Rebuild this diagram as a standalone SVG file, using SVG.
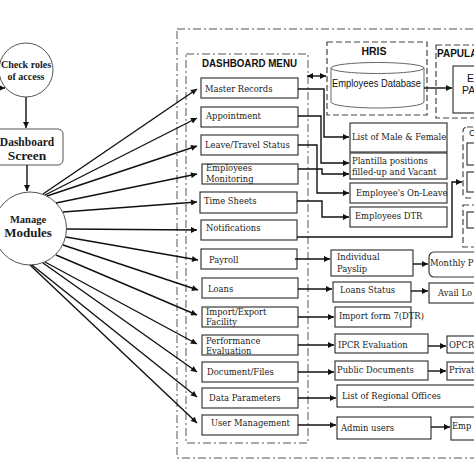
<svg xmlns="http://www.w3.org/2000/svg" width="474" height="474" viewBox="0 0 474 474">
<defs>
<style>
.box{fill:#fff;stroke:#3a3a3a;stroke-width:1.2}
.t{font-family:"DejaVu Serif",serif;font-size:8.4px;fill:#1a1a1a}
.b{font-family:"Liberation Serif",serif;font-weight:bold;fill:#1a1a1a;text-anchor:middle}
.s{font-family:"Liberation Sans",Arial,sans-serif;fill:#111}
.c{fill:none;stroke:#111;stroke-width:1.4;marker-end:url(#ah)}
.dd{fill:none;stroke:#555;stroke-width:1;stroke-dasharray:8 3 2 3}
.dsh{fill:none;stroke:#444;stroke-width:1.2;stroke-dasharray:6 3}
.circ{fill:#fff;stroke:#555;stroke-width:1}
</style>
<marker id="ah" viewBox="0 0 10 10" refX="10" refY="5" markerWidth="7" markerHeight="6" markerUnits="userSpaceOnUse" orient="auto-start-reverse">
<path d="M0,0 L10,5 L0,10 z" fill="#111"/>
</marker>
</defs>
<rect width="474" height="474" fill="#fff"/>

<g id="containers">
<rect class="dd" x="177" y="29" width="320" height="429"/>
<rect class="dd" x="186" y="54" width="122" height="389"/>
<text class="s" x="202" y="67" font-size="10.7" font-weight="bold" textLength="95" lengthAdjust="spacingAndGlyphs">DASHBOARD MENU</text>
</g>

<g id="check-roles">
<circle class="circ" cx="26" cy="70" r="27"/>
<text class="b" x="26" y="68" font-size="10">Check roles</text>
<text class="b" x="26" y="80" font-size="10">of access</text>
</g>
<g id="dashboard-screen">
<rect x="-6" y="129" width="69" height="36" rx="5" fill="#fff" stroke="#555" stroke-width="1"/>
<text class="b" x="27" y="146" font-size="11.5">Dashboard</text>
<text class="b" x="27" y="160" font-size="13.5">Screen</text>
</g>
<g id="manage-modules">
<circle class="circ" cx="30" cy="228.5" r="36.5"/>
<text class="b" x="28" y="223" font-size="10.5">Manage</text>
<text class="b" x="28" y="237" font-size="13">Modules</text>
</g>

<g id="menu">
<g id="m-master"><rect class="box" x="201" y="78" width="97" height="20"/><text class="t" x="205" y="91.5">Master Records</text></g>
<g id="m-appointment"><rect class="box" x="201" y="107" width="97" height="20"/><text class="t" x="206" y="118.5">Appointment</text></g>
<g id="m-leave"><rect class="box" x="201" y="135" width="97" height="20"/><text class="t" x="205" y="147.5">Leave/Travel Status</text></g>
<g id="m-monitoring"><rect class="box" x="202" y="164" width="96" height="20"/><text class="t" x="206" y="171">Employees</text><text class="t" x="206" y="182">Monitoring</text></g>
<g id="m-timesheets"><rect class="box" x="200" y="192" width="97" height="21"/><text class="t" x="204" y="204">Time Sheets</text></g>
<g id="m-notifications"><rect class="box" x="201" y="220" width="96" height="20"/><text class="t" x="206" y="231">Notifications</text></g>
<g id="m-payroll"><rect class="box" x="201" y="249" width="96" height="20"/><text class="t" x="209" y="263">Payroll</text></g>
<g id="m-loans"><rect class="box" x="202" y="278" width="96" height="20"/><text class="t" x="208" y="292">Loans</text></g>
<g id="m-import"><rect class="box" x="202" y="307" width="96" height="20"/><text class="t" x="206" y="315">Import/Export</text><text class="t" x="206" y="325">Facility</text></g>
<g id="m-performance"><rect class="box" x="202" y="335" width="96" height="20"/><text class="t" x="206" y="343.5">Performance</text><text class="t" x="206" y="354">Evaluation</text></g>
<g id="m-document"><rect class="box" x="202" y="362" width="96" height="20"/><text class="t" x="207" y="375">Document/Files</text></g>
<g id="m-data"><rect class="box" x="202" y="388" width="96" height="20"/><text class="t" x="209" y="401">Data Parameters</text></g>
<g id="m-user"><rect class="box" x="202" y="415" width="96" height="20"/><text class="t" x="211" y="426">User Management</text></g>
</g>

<g id="hris">
<rect class="dsh" x="327" y="42" width="100" height="73"/>
<text class="s" x="374" y="55" font-size="10.5" font-weight="bold" text-anchor="middle">HRIS</text>
<path d="M331,68 L331,102 A46.5,6 0 0 0 424,102 L424,68" fill="#fff" stroke="#666" stroke-width="1"/>
<ellipse cx="377.5" cy="68" rx="46.5" ry="5.5" fill="#fff" stroke="#666" stroke-width="1"/>
<text class="s" x="332" y="87" font-size="10.5" textLength="89" lengthAdjust="spacingAndGlyphs">Employees Database</text>
</g>

<g id="papula">
<rect class="dsh" x="436" y="45" width="60" height="73"/>
<text class="s" x="437" y="57" font-size="10" font-weight="bold">PAPULA</text>
<rect class="box" x="453" y="66" width="40" height="47"/>
<text class="s" x="467" y="82" font-size="10.5">E</text>
<text class="s" x="462" y="94" font-size="10.5">PA</text>
</g>

<g id="c-group">
<rect class="dsh" x="463" y="127" width="40" height="71" rx="4"/>
<text class="s" x="469" y="136" font-size="9">C</text>
<rect class="box" x="467" y="143" width="30" height="22"/>
<rect class="box" x="467" y="172" width="30" height="20"/>
<rect class="dsh" x="463" y="205" width="40" height="42"/>
<rect class="box" x="467" y="212" width="30" height="16"/>
</g>

<g id="n-male-female"><rect class="box" x="350" y="123" width="97" height="29"/><text class="t" x="352" y="140">List of Male &amp; Female</text></g>
<g id="n-plantilla"><rect class="box" x="350" y="153" width="97" height="26"/><text class="t" x="352" y="164">Plantilla positions</text><text class="t" x="352" y="175">filled-up and Vacant</text></g>
<g id="n-onleave"><rect class="box" x="350" y="183" width="97" height="20"/><text class="t" x="356" y="195.5">Employee's On-Leave</text></g>
<g id="n-dtr"><rect class="box" x="350" y="207" width="97" height="20"/><text class="t" x="355" y="219">Employees DTR</text></g>
<g id="n-payslip"><rect class="box" x="331" y="250" width="82" height="26"/><text class="t" x="337" y="260">Individual</text><text class="t" x="337" y="272">Payslip</text></g>
<g id="n-monthly"><rect class="box" x="429" y="252" width="60" height="25" rx="5"/><text class="t" x="430" y="266">Monthly P</text></g>
<g id="n-loanstatus"><rect class="box" x="333" y="282" width="78" height="20"/><text class="t" x="340" y="292.5">Loans Status</text></g>
<g id="n-avail"><rect class="box" x="429" y="283" width="60" height="20"/><text class="t" x="438" y="296">Avail Lo</text></g>
<g id="n-importform"><rect class="box" x="335" y="307" width="76" height="20"/><text class="t" x="339" y="319">Import form 7(DTR)</text></g>
<g id="n-ipcr"><rect class="box" x="335" y="334" width="93" height="19"/><text class="t" x="338" y="348">IPCR Evaluation</text></g>
<g id="n-opcr"><rect class="box" x="447" y="336" width="40" height="17"/><text class="t" x="449" y="348">OPCR</text></g>
<g id="n-public"><rect class="box" x="335" y="361" width="93" height="19"/><text class="t" x="337" y="373">Public Documents</text></g>
<g id="n-privat"><rect class="box" x="447" y="362" width="40" height="18"/><text class="t" x="449" y="373">Privat</text></g>
<g id="n-regional"><rect class="box" x="337" y="385" width="150" height="22"/><text class="t" x="342" y="399">List of Regional Offices</text></g>
<g id="n-admin"><rect class="box" x="337" y="417" width="94" height="22"/><text class="t" x="341" y="431">Admin users</text></g>
<g id="n-emp"><rect class="box" x="451" y="417" width="40" height="23"/><text class="t" x="452" y="429">Emp</text></g>

<g id="connectors">
<path class="c" d="M-4,88 L5,88"/>
<path class="c" d="M26,97 L26,128"/>
<path class="c" d="M27,165 L27,191"/>
<path class="c" d="M43,194 L197,89"/>
<path class="c" d="M45,195 L197,118"/>
<path class="c" d="M47,196 L197,146"/>
<path class="c" d="M56,203 L197,174"/>
<path class="c" d="M63,212 L197,202"/>
<path class="c" d="M66.5,229 L197,230"/>
<path class="c" d="M66,237 L198,260"/>
<path class="c" d="M63,245 L198,290"/>
<path class="c" d="M56,255 L197,315"/>
<path class="c" d="M45,262 L197,344"/>
<path class="c" d="M43,263 L197,372"/>
<path class="c" d="M32,265 L197,397"/>
<path class="c" d="M30,265 L197,423"/>
<path class="c" d="M307,76 L326,76" marker-start="url(#ah)"/>
<path class="c" d="M424,88 L452,88"/>
<path class="c" d="M298,89 L324,89 L324,137 L349,137"/>
<path class="c" d="M298,116 L321,116 L321,163 L349,163"/>
<path class="c" d="M298,145 L317,145 L317,193 L349,193"/>
<path class="c" d="M298,169 L322,169 L322,174 L349,174"/>
<path class="c" d="M297,201 L322,201 L322,217 L349,217"/>
<path class="c" d="M297,237 L452,237 L452,182 L462,182"/>
<path class="c" d="M295,259 L330,259"/>
<path class="c" d="M413,264 L428,264"/>
<path class="c" d="M298,289 L332,289"/>
<path class="c" d="M411,291 L428,291"/>
<path class="c" d="M298,317 L334,317"/>
<path class="c" d="M298,345 L334,345"/>
<path class="c" d="M428,346 L446,346"/>
<path class="c" d="M298,372 L334,372"/>
<path class="c" d="M428,371 L446,371"/>
<path class="c" d="M298,398 L336,398"/>
<path class="c" d="M298,425 L336,425"/>
<path class="c" d="M431,427 L450,427"/>
</g>
</svg>
